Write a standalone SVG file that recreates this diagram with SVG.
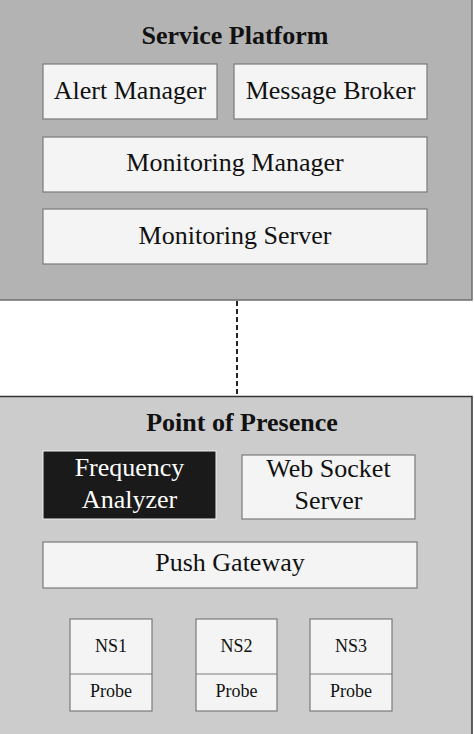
<svg xmlns="http://www.w3.org/2000/svg" width="474" height="734" viewBox="0 0 474 734">
<style>
.box{fill:#f4f4f4;stroke:#7a7a7a;stroke-width:1.2}
.t{font-family:"Liberation Serif","Times New Roman",serif;font-size:26px;fill:#111;text-anchor:middle}
.ttl{font-family:"Liberation Serif","Times New Roman",serif;font-size:26px;font-weight:bold;fill:#111;text-anchor:middle}
.s{font-family:"Liberation Serif","Times New Roman",serif;font-size:18px;fill:#111;text-anchor:middle}
</style>
<rect width="474" height="734" fill="#ffffff"/>
<g id="service-platform">
<rect x="-1" y="-1" width="473" height="301" fill="#b3b3b3" stroke="#6e6e6e" stroke-width="1.5"/>
<text class="ttl" x="235" y="44">Service Platform</text>
</g>
<g id="alert-manager">
<rect class="box" x="43" y="64" width="174" height="55"/>
<text class="t" x="130" y="99">Alert Manager</text>
</g>
<g id="message-broker">
<rect class="box" x="234" y="64" width="193" height="55"/>
<text class="t" x="330.5" y="99">Message Broker</text>
</g>
<g id="monitoring-manager">
<rect class="box" x="43" y="137" width="384" height="55"/>
<text class="t" x="235" y="171">Monitoring Manager</text>
</g>
<g id="monitoring-server">
<rect class="box" x="43" y="209" width="384" height="55"/>
<text class="t" x="235" y="244">Monitoring Server</text>
</g>
<g id="connectors">
<line x1="237" y1="301" x2="237" y2="396" stroke="#222" stroke-width="2" stroke-dasharray="5,3"/>
</g>
<g id="point-of-presence">
<rect x="-1" y="396.5" width="473" height="339" fill="#cccccc" stroke="#333" stroke-width="1.5"/>
<text class="ttl" x="242" y="431">Point of Presence</text>
</g>
<g id="frequency-analyzer">
<rect x="43" y="451" width="173" height="68" fill="#1a1a1a" stroke="#eeeeee" stroke-width="1"/>
<text class="t" x="129.5" y="476" style="fill:#fff">Frequency</text>
<text class="t" x="129.5" y="508" style="fill:#fff">Analyzer</text>
</g>
<g id="web-socket-server">
<rect class="box" x="242" y="455" width="173" height="64"/>
<text class="t" x="328.5" y="477">Web Socket</text>
<text class="t" x="328.5" y="509">Server</text>
</g>
<g id="push-gateway">
<rect class="box" x="43" y="542" width="374" height="46"/>
<text class="t" x="230" y="571">Push Gateway</text>
</g>
<g id="ns1">
<rect class="box" x="70" y="619" width="82" height="92"/>
<line x1="70" y1="674" x2="152" y2="674" stroke="#7a7a7a" stroke-width="1.2"/>
<text class="s" x="111" y="652">NS1</text>
<text class="s" x="111" y="697">Probe</text>
</g>
<g id="ns2">
<rect class="box" x="196" y="619" width="81" height="92"/>
<line x1="196" y1="674" x2="277" y2="674" stroke="#7a7a7a" stroke-width="1.2"/>
<text class="s" x="236.5" y="652">NS2</text>
<text class="s" x="236.5" y="697">Probe</text>
</g>
<g id="ns3">
<rect class="box" x="310" y="619" width="82" height="92"/>
<line x1="310" y1="674" x2="392" y2="674" stroke="#7a7a7a" stroke-width="1.2"/>
<text class="s" x="351" y="652">NS3</text>
<text class="s" x="351" y="697">Probe</text>
</g>
</svg>
